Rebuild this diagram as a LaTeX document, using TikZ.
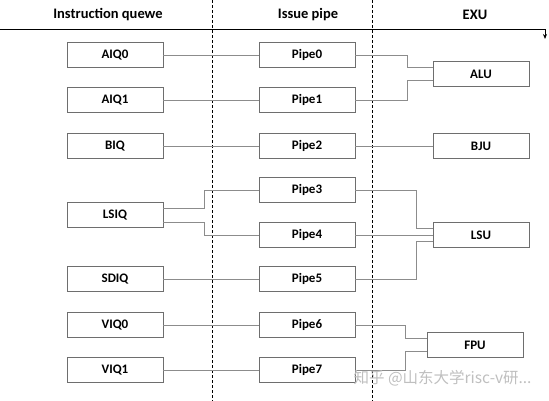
\documentclass[tikz,border=0pt]{standalone}
\usepackage{fontspec}
\setmainfont{Carlito}
\newfontfamily\cjkfont{Noto Sans CJK SC}
\usetikzlibrary{arrows.meta}
\definecolor{boxgray}{HTML}{6E6E6E}
\definecolor{wiregray}{HTML}{8C8C8C}
\begin{document}
\begin{tikzpicture}[x=1pt,y=-1pt,
    unit/.style={draw=boxgray, line width=0.8pt, minimum width=96pt, minimum height=25pt,
      inner sep=0pt, font=\fontsize{13}{15}\selectfont\bfseries},
    wire/.style={draw=wiregray, line width=0.8pt},
    head/.style={font=\fontsize{14.5}{16}\selectfont\bfseries}]
  \useasboundingbox (0,0) rectangle (549,401);
  % stage titles and separators
  \node[head] (tq) at (108,15) {Instruction quewe};
  \node[head] (tp) at (308,15) {Issue pipe};
  \node[head] (te) at (475,15) {EXU};
  \draw[line width=0.9pt, -{Stealth[length=5pt,width=4pt]}] (0,29) -- (545,29) -- (545,39);
  \draw[dashed, dash pattern=on 3pt off 2pt, line width=0.6pt] (212,0) -- (212,401) (372,0) -- (372,401);
  % queues
  \node[unit] (aiq0) at (115,55) {AIQ0};
  \node[unit] (aiq1) at (115,100) {AIQ1};
  \node[unit] (biq) at (115,146) {BIQ};
  \node[unit] (lsiq) at (115,215) {LSIQ};
  \node[unit] (sdiq) at (115,279) {SDIQ};
  \node[unit] (viq0) at (115,325) {VIQ0};
  \node[unit] (viq1) at (115,370) {VIQ1};
  % pipes
  \foreach \i/\y in {0/55,1/100,2/146,3/190,4/235,5/279,6/325,7/370}
    \node[unit] (p\i) at (307,\y) {Pipe\i};
  % execution units
  \node[unit] (alu) at (481,74) {ALU};
  \node[unit] (bju) at (481,146) {BJU};
  \node[unit] (lsu) at (481,235) {LSU};
  \node[unit] (fpu) at (475,345) {FPU};
  % queue to pipe
  \draw[wire] (aiq0) -- (p0);
  \draw[wire] (aiq1) -- (p1);
  \draw[wire] (biq) -- (p2);
  \draw[wire] ([yshift=7pt]lsiq.east) -- ++(41,0) |- (p3.west);
  \draw[wire] ([yshift=-7pt]lsiq.east) -- ++(41,0) |- (p4.west);
  \draw[wire] (sdiq) -- (p5);
  \draw[wire] (viq0) -- (p6);
  \draw[wire] (viq1) -- (p7);
  % pipe to unit
  \draw[wire] (p0.east) -- ++(52,0) |- ([yshift=7pt]alu.west);
  \draw[wire] (p1.east) -- ++(52,0) |- ([yshift=-6pt]alu.west);
  \draw[wire] (p2) -- (bju);
  \draw[wire] (p3.east) -- ++(61,0) |- ([yshift=7pt]lsu.west);
  \draw[wire] (p4) -- (lsu);
  \draw[wire] (p5.east) -- ++(61,0) |- ([yshift=-6pt]lsu.west);
  \draw[wire] (p6.east) -- ++(50,0) |- ([yshift=7pt]fpu.west);
  \draw[wire] (p7.east) -- ++(50,0) |- ([yshift=-6pt]fpu.west);
  \node[text=gray!50, anchor=west, font=\cjkfont\fontsize{15.5}{17}\selectfont] (mark) at (350,378) {知乎 @山东大学risc-v研...};
\end{tikzpicture}
\end{document}
